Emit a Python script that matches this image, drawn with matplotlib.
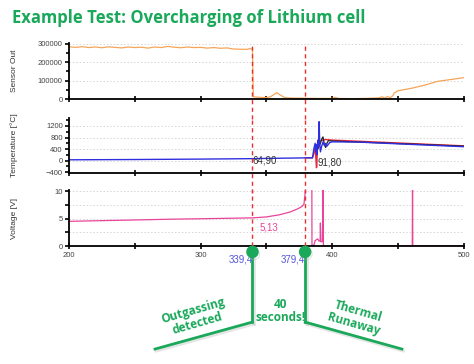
import matplotlib.pyplot as plt
import matplotlib.patheffects as pe
from matplotlib.ticker import MultipleLocator, FuncFormatter
from matplotlib.transforms import blended_transform_factory

# Sensor output (orange)
sensor_t = [200, 205, 210, 215, 220, 225, 230, 235, 240, 245, 250, 255, 260, 265,
            270, 275, 280, 285, 290, 295, 300, 305, 310, 315, 320, 325, 330, 335,
            338, 339.4, 340, 345, 350, 353, 356, 358, 361, 364, 370, 380, 390, 400,
            402, 405, 415, 425, 435, 438, 440, 442, 444, 446, 447, 450, 460, 470,
            480, 490, 500]
sensor_v = [284000, 281000, 285000, 280000, 283000, 279000, 284000, 281000, 278000,
            283000, 280000, 282000, 277000, 283000, 280000, 286000, 282000, 279000,
            283000, 280000, 281000, 277000, 280000, 276000, 278000, 272000, 271000,
            270000, 275000, 268000, 12000, 9000, 8000, 12000, 26000, 34000, 20000,
            7000, 5000, 4000, 3000, 3000, 9000, 3000, 2000, 3000, 6000, 12000, 5000,
            14000, 6000, 18000, 32000, 45000, 58000, 75000, 96000, 106000, 116000]

# Temperature channels
temp_blue_t = [200, 250, 300, 339.4, 345, 360, 379.4, 385, 386, 387, 387.5, 388,
               388.5, 389, 389.5, 390, 390.5, 391, 392, 393, 394, 395, 396, 398, 400,
               420, 450, 480, 500]
temp_blue_v = [25, 35, 50, 64.9, 70, 80, 91.8, 95, 400, 600, 300, 550, 200, 700, 500,
               1350, 600, 300, 500, 650, 520, 600, 500, 620, 650, 640, 580, 520, 480]
temp_red_t = [379.4, 385, 386.5, 387, 388, 388.3, 388.6, 389, 390, 392, 395, 400, 450, 500]
temp_red_v = [91.8, 95, 300, 500, -250, -200, 400, 700, 650, 700, 730, 710, 610, 510]
temp_black_t = [388, 390, 391, 392, 393, 394, 395, 396, 397, 400, 450, 500]
temp_black_v = [300, 500, 600, 750, 820, 560, 450, 600, 690, 680, 590, 500]

# Voltage (pink)
volt_t = [200, 220, 250, 280, 300, 320, 339.4, 350, 360, 368, 374, 377, 378.5, 379.4,
          380, 384.5, 384.6, 386, 387, 389, 390, 390.8, 391, 391.3, 392.5, 393, 393.3,
          420, 460.8, 461, 461.2, 500]
volt_v = [4.5, 4.6, 4.75, 4.9, 4.97, 5.05, 5.13, 5.3, 5.7, 6.2, 6.8, 7.2, 7.6, 9.6,
          12, 12, 0.2, 0.1, 1.0, 1.3, 0.9, 0.9, 4.2, 0.8, 0.8, 10.5, 0, 0, 0, 10.5, 0, 0]

events = [339.4, 379.4]
event_labels = ["339,4", "379,4"]
temp_marks = [64.9, 91.8]
volt_mark = 5.13

GREEN = "#1aa85a"
plt.rcParams['font.family'] = ['Liberation Sans', 'DejaVu Sans']

fig = plt.figure(figsize=(4.74, 3.64), dpi=100)
ax1 = fig.add_axes([0.1456, 0.728, 0.833, 0.154])
ax2 = fig.add_axes([0.1456, 0.525, 0.833, 0.151])
ax3 = fig.add_axes([0.1456, 0.324, 0.833, 0.154])

ax1.plot(sensor_t, sensor_v, color="#f5a55a", lw=0.9)
ax2.plot(temp_red_t, temp_red_v, color="#e8283c", lw=1.0)
ax2.plot(temp_black_t, temp_black_v, color="#222222", lw=0.9)
ax2.plot(temp_blue_t, temp_blue_v, color="#2f2fe0", lw=1.0)
ax3.plot(volt_t, volt_v, color="#e8449a", lw=0.9)

ax1.set_ylim(0, 305000)
ax2.set_ylim(-430, 1480)
ax3.set_ylim(0, 10.2)

ax1.yaxis.set_major_locator(MultipleLocator(100000))
ax1.yaxis.set_minor_locator(MultipleLocator(50000))
ax2.yaxis.set_major_locator(MultipleLocator(400))
ax2.yaxis.set_minor_locator(MultipleLocator(200))
ax3.yaxis.set_major_locator(MultipleLocator(2.5))
ax3.yaxis.set_major_formatter(FuncFormatter(lambda v, p: "%d" % v if v % 5 == 0 else ""))

labels = ["Sensor Out", "Temperature [°C]", "Voltage [V]"]
for ax, lab in zip([ax1, ax2, ax3], labels):
    ax.set_xlim(200, 500)
    ax.xaxis.set_major_locator(MultipleLocator(50))
    ax.spines[['top', 'right']].set_visible(False)
    ax.spines[['left', 'bottom']].set_linewidth(1.3)
    ax.tick_params(axis='both', which='both', labelsize=5.5, labelcolor="#444444",
                   width=1.2, length=3, pad=1.5)
    ax.tick_params(axis='y', which='minor', length=2)
    ax.tick_params(axis='x', direction='inout', length=5)
    ax.grid(axis='y', which='major', color="#d5d5d5", linestyle=(0, (1.5, 2)), lw=0.7)
    ax.set_ylabel(lab, fontsize=6, color="#333333")
    ax.yaxis.set_label_coords(-0.13, 0.5)
    ax.set_facecolor('none')
    for x in events:
        lo = 0 if ax is ax3 else -0.36
        ax.axvline(x, ymin=lo, ymax=1, color="#e83030", lw=1.0,
                   linestyle=(0, (3, 2.5)), clip_on=False, zorder=5)

ax1.tick_params(axis='x', labelbottom=False)
ax2.tick_params(axis='x', labelbottom=False)
ax3.xaxis.set_major_formatter(FuncFormatter(lambda v, p: "%d" % v if v % 100 == 0 else ""))

# value labels at the event lines
ax2.annotate("64,90", (events[0], temp_marks[0]), xytext=(0, -1), textcoords='offset points',
             fontsize=7, color="#333333", va='center', ha='left')
ax2.annotate("91,80", (events[1], temp_marks[1]), xytext=(9, -3), textcoords='offset points',
             fontsize=7, color="#333333", va='center', ha='left')
ax3.annotate("5,13", (events[0], volt_mark), xytext=(5, -7), textcoords='offset points',
             fontsize=7, color="#e8449a", va='center', ha='left')

# green callouts below the axis
tr = blended_transform_factory(ax3.transData, fig.transFigure)
shadow = [pe.SimpleLineShadow(offset=(1, -1.5), shadow_color='#aaaaaa', alpha=0.3), pe.Normal()]
for x, lab in zip(events, event_labels):
    ax3.text(x, 0.286, lab, transform=tr, fontsize=7, color="#5555e0", ha='right', va='center')
    fig.add_artist(plt.Line2D([x, x], [0.308, 0.115], transform=tr, color=GREEN, lw=2.0,
                              path_effects=shadow))
    fig.add_artist(plt.Line2D([x], [0.308], transform=tr, marker='o', ms=8, color=GREEN,
                              path_effects=shadow))

fig.add_artist(plt.Line2D([0.532, 0.327], [0.115, 0.041], color=GREEN, lw=2.0,
                          path_effects=shadow))
fig.add_artist(plt.Line2D([0.644, 0.848], [0.115, 0.041], color=GREEN, lw=2.0,
                          path_effects=shadow))

tfont = dict(color=GREEN, weight='bold', family='Open Sans', fontsize=8.5,
             ha='center', va='center', linespacing=1.05)
fig.text(0.412, 0.130, "Outgassing\ndetected", rotation=16, **tfont)
fig.text(0.591, 0.145, "40\nseconds!", **tfont)
fig.text(0.751, 0.127, "Thermal\nRunaway", rotation=-16, **tfont)

fig.text(0.025, 0.938, "Example Test: Overcharging of Lithium cell", color=GREEN,
         weight='bold', family='Open Sans', fontsize=12, ha='left', va='baseline')

fig.savefig("out.png", dpi=100)
